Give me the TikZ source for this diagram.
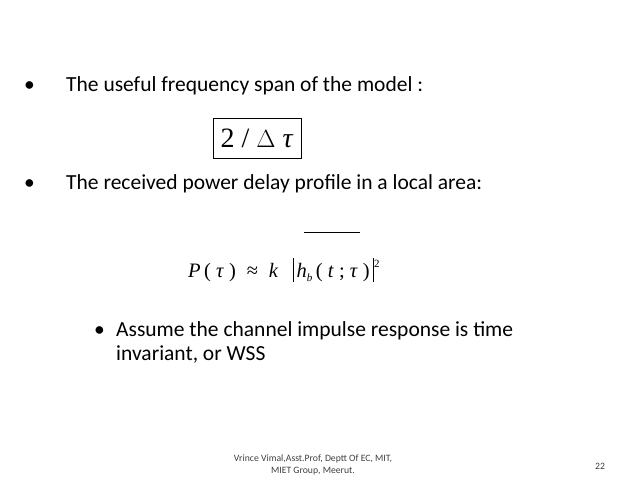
\documentclass[tikz,border=0pt]{standalone}
\usepackage{fontspec}
\setmainfont{Carlito}
\newfontfamily\tms{Liberation Serif}
\begin{document}
\begin{tikzpicture}[x=1pt,y=-1pt,
  txt/.style={anchor=west,inner sep=0pt,font=\fontsize{21.5}{26}\selectfont},
  foot/.style={inner sep=0pt,font=\fontsize{9.7}{12}\selectfont,text=black!75,align=center}]
\useasboundingbox (0,0) rectangle (638,478);
\node[txt] (b1) at (24,86) {\makebox[42pt][l]{•}The useful frequency span of the model :};
\node[draw,thick,minimum width=88pt,minimum height=40pt,inner sep=0pt,font=\tms\fontsize{28}{30}\selectfont] (box) at (257,138) {2 / $\Delta$ \textit{τ}};
\node[txt] (b2) at (24,184) {\makebox[42pt][l]{•}The received power delay profile in a local area:};
\node[inner sep=0pt,anchor=west,font=\tms\fontsize{20.5}{24}\selectfont] (eq) at (188,270) {\textit{P}\,( \textit{τ} )\; ≈\; \textit{k}\;\, \raisebox{-4pt}{\rule{0.8pt}{24pt}}\,\textit{h}\raisebox{-4pt}{\fontsize{11}{12}\selectfont\textit{b}}\,( \textit{t} ; \textit{τ} )\,\raisebox{-4pt}{\rule{0.8pt}{24pt}}\raisebox{10pt}{\fontsize{11}{12}\selectfont 2}};
\coordinate (o1) at (304,232);
\coordinate (o2) at (360,232);
\draw[line width=0.8pt] (o1) -- (o2);
\node[txt,align=left,anchor=west] (b3) at (94,331) {\makebox[22pt][l]{•}Assume the channel impulse response is time};
\node[txt,anchor=west] (b4) at (116,354) {invariant, or WSS};
\node[foot] (f) at (313,465) {Vrince Vimal,Asst.Prof, Deptt Of EC, MIT,\\MIET Group, Meerut.};
\node[foot] (pg) at (600,466) {22};
\end{tikzpicture}
\end{document}
